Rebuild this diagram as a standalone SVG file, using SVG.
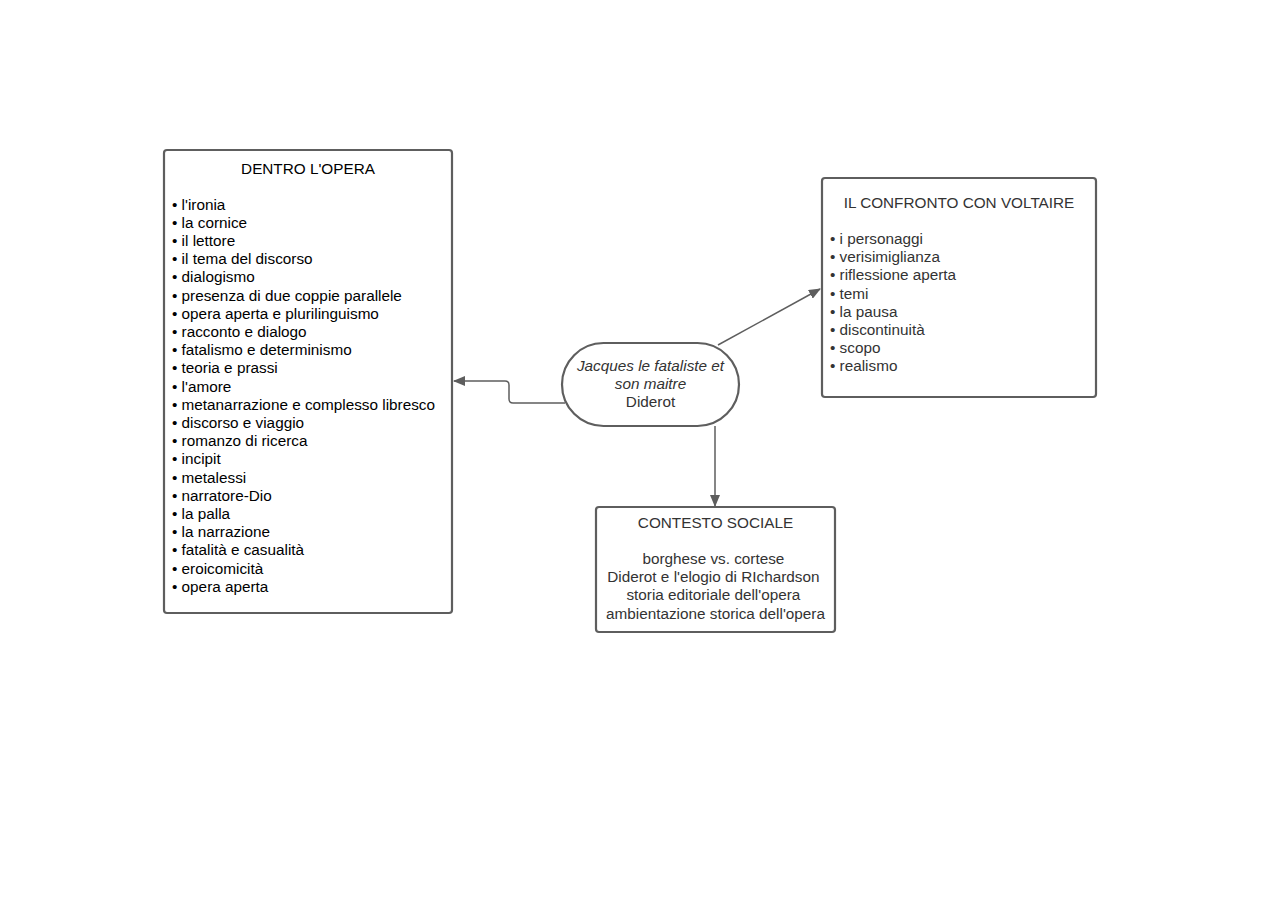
<svg xmlns="http://www.w3.org/2000/svg" width="1280" height="904" viewBox="0 0 1280 904">
<defs>
<style>
.box{fill:#fff;stroke:#5e5e5e;stroke-width:2.2}
.t{font-family:"Liberation Sans",Arial,sans-serif;font-size:15.3px;fill:#333}
.k{fill:#000}
.c{text-anchor:middle}
.i{font-style:italic}
.conn{fill:none;stroke:#5e5e5e;stroke-width:1.5}
</style>
<marker id="ah" viewBox="0 0 12 10" refX="11" refY="5" markerWidth="12" markerHeight="10" markerUnits="userSpaceOnUse" orient="auto">
<path d="M0,0 L12,5 L0,10 Z" fill="#5e5e5e"/>
</marker>
</defs>
<rect width="1280" height="904" fill="#fff"/>
<g id="connectors">
<path class="conn" d="M565,403 H513 Q509,403 509,399 V385 Q509,381 505,381 H454" marker-end="url(#ah)"/>
<path class="conn" d="M718,345 L820,289" marker-end="url(#ah)"/>
<path class="conn" d="M715,426 V506" marker-end="url(#ah)"/>
</g>
<g id="dentro">
<rect class="box" x="164" y="150" width="288" height="463" rx="3"/>
<text class="t k c" x="308" y="173.5">DENTRO L'OPERA</text>
<text class="t k">
<tspan x="172" y="209.5">• l'ironia</tspan>
<tspan x="172" y="227.7">• la cornice</tspan>
<tspan x="172" y="245.9">• il lettore</tspan>
<tspan x="172" y="264.1">• il tema del discorso</tspan>
<tspan x="172" y="282.3">• dialogismo</tspan>
<tspan x="172" y="300.5">• presenza di due coppie parallele</tspan>
<tspan x="172" y="318.7">• opera aperta e plurilinguismo</tspan>
<tspan x="172" y="336.9">• racconto e dialogo</tspan>
<tspan x="172" y="355.1">• fatalismo e determinismo</tspan>
<tspan x="172" y="373.3">• teoria e prassi</tspan>
<tspan x="172" y="391.5">• l'amore</tspan>
<tspan x="172" y="409.7">• metanarrazione e complesso libresco</tspan>
<tspan x="172" y="427.9">• discorso e viaggio</tspan>
<tspan x="172" y="446.1">• romanzo di ricerca</tspan>
<tspan x="172" y="464.3">• incipit</tspan>
<tspan x="172" y="482.5">• metalessi</tspan>
<tspan x="172" y="500.7">• narratore-Dio</tspan>
<tspan x="172" y="518.9">• la palla</tspan>
<tspan x="172" y="537.1">• la narrazione</tspan>
<tspan x="172" y="555.3">• fatalità e casualità</tspan>
<tspan x="172" y="573.5">• eroicomicità</tspan>
<tspan x="172" y="591.7">• opera aperta</tspan>
</text>
</g>
<g id="voltaire">
<rect class="box" x="822" y="178" width="274" height="219" rx="3"/>
<text class="t c" x="959" y="207.5">IL CONFRONTO CON VOLTAIRE</text>
<text class="t">
<tspan x="830" y="244">• i personaggi</tspan>
<tspan x="830" y="262.2">• verisimiglianza</tspan>
<tspan x="830" y="280.4">• riflessione aperta</tspan>
<tspan x="830" y="298.6">• temi</tspan>
<tspan x="830" y="316.8">• la pausa</tspan>
<tspan x="830" y="335">• discontinuità</tspan>
<tspan x="830" y="353.2">• scopo</tspan>
<tspan x="830" y="371.4">• realismo</tspan>
</text>
</g>
<g id="contesto">
<rect class="box" x="596" y="507" width="239" height="125" rx="3"/>
<text class="t c" x="715.5" y="527.5">CONTESTO SOCIALE</text>
<text class="t c">
<tspan x="715.5" y="564">borghese vs. cortese</tspan>
<tspan x="715.5" y="582.2">Diderot e l'elogio di RIchardson</tspan>
<tspan x="715.5" y="600.4">storia editoriale dell'opera</tspan>
<tspan x="715.5" y="618.6">ambientazione storica dell'opera</tspan>
</text>
</g>
<g id="centro">
<rect class="box" x="562" y="343" width="177" height="83" rx="41.5"/>
<text class="t c i" x="650.5" y="370.5">Jacques le fataliste et</text>
<text class="t c i" x="650.5" y="388.7">son maitre</text>
<text class="t c" x="650.5" y="406.9">Diderot</text>
</g>
</svg>
